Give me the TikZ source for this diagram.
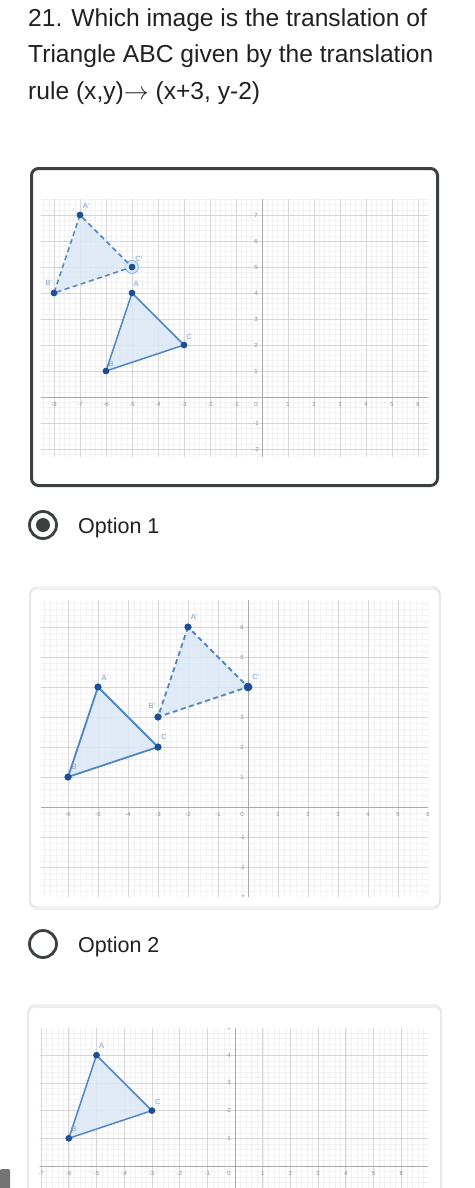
\documentclass[tikz,border=0pt]{standalone}
\usepackage{fontspec}
\setmainfont{Liberation Sans}
\definecolor{txt}{HTML}{202124}
\definecolor{gmin}{HTML}{F1F1F1}
\definecolor{gmaj}{HTML}{D6D6D6}
\definecolor{gax}{HTML}{A9A9A9}
\definecolor{glab}{HTML}{8C8C8C}
\definecolor{triline}{HTML}{4F86C6}
\definecolor{trifill}{HTML}{DCE8F6}
\definecolor{ptcol}{HTML}{1E4F96}
\definecolor{plabc}{HTML}{7D9CC8}
\definecolor{radioc}{HTML}{3C4043}
\definecolor{frameA}{HTML}{3C4043}
\definecolor{frameB}{HTML}{DADCE0}
\newcommand\gpanel[7]{%
  \begin{scope}
    \clip (#1,#3) rectangle (#2,#4);
    \foreach \k in {-50,...,40}{\draw[gminor] (\k/5,-5) -- (\k/5,9);}
    \foreach \k in {-25,...,45}{\draw[gminor] (-11,\k/5) -- (9,\k/5);}
    \foreach \k in {-10,...,8}{\draw[gmajor] (\k,-5) -- (\k,9);}
    \foreach \k in {-5,...,9}{\draw[gmajor] (-11,\k) -- (9,\k);}
    \draw[gaxis] (-11,0) -- (9,0) (0,-5) -- (0,9);
    \foreach \k in {#6}{\node[xlab] (#5x\k) at (\k,0) {\k};}
    \foreach \k in {#7}{\node[ylab] (#5y\k) at (0,\k) {\k};}
    \node[xlab, xshift=-6pt] (#5o) at (0,0) {0};
  \end{scope}}
\begin{document}
\begin{tikzpicture}[x=1pt,y=-1pt,
  title/.style={font=\fontsize{24.6}{28}\selectfont, text=txt, inner sep=0pt, anchor=base west},
  opt/.style={font=\fontsize{21.5}{26}\selectfont, text=txt, inner sep=0pt, anchor=base west},
  gminor/.style={draw=gmin, line width=0.4pt},
  gmajor/.style={draw=gmaj, line width=0.8pt},
  gaxis/.style={draw=gax, line width=1pt},
  xlab/.style={font=\fontsize{6}{7}\selectfont, text=glab, inner sep=0pt, yshift=-7pt},
  ylab/.style={font=\fontsize{6}{7}\selectfont, text=glab, inner sep=0pt, xshift=-6pt},
  pt/.style={circle, fill=ptcol, inner sep=0pt, minimum size=6.5pt},
  plab/.style={font=\fontsize{7.5}{8}\selectfont, text=plabc, inner sep=0pt},
  tri/.style={draw=triline, fill=trifill, fill opacity=0.85, line width=1.5pt, line join=round},
  dtri/.style={tri, dash pattern=on 5pt off 3.5pt},
  ring/.style={draw=radioc, line width=2.8pt},
]
\useasboundingbox (0,0) rectangle (474,1188);
\fill[white] (0,0) rectangle (474,1188);

% ---- question text
\node[title] (t1) at (28,27) {21. Which image is the translation of};
\node[title] (t2) at (28,63) {Triangle ABC given by the translation};
\node[title] (t3) at (28,100) {rule (x,y)$\rightarrow$ (x+3, y-2)};

% ---- graph 1 (question)
\begin{scope}[xshift=262pt, yshift=-397pt, x=26pt, y=26pt]
  \gpanel{-8.5}{6.4}{-2.3}{7.6}{ga}{-8,...,-1,1,2,...,6}{-2,-1,1,2,...,7}
  \node[pt] (A1) at (-5,4) {};
  \node[pt] (B1) at (-6,1) {};
  \node[pt] (C1) at (-3,2) {};
  \node[pt] (A1p) at (-7,7) {};
  \node[pt] (B1p) at (-8,4) {};
  \node[circle, fill=trifill, draw=triline!60, line width=1pt, minimum size=13pt, inner sep=0pt] (C1h) at (-5,5) {};
  \node[pt] (C1p) at (-5,5) {};
  \path[tri] (A1.center) -- (B1.center) -- (C1.center) -- cycle;
  \path[dtri] (A1p.center) -- (B1p.center) -- (C1p.center) -- cycle;
  \node[pt] at (A1) {};\node[pt] at (B1) {};\node[pt] at (C1) {};
  \node[pt] at (A1p) {};\node[pt] at (B1p) {};\node[pt] at (C1p) {};
  \node[plab] (lA1) at ([xshift=4pt,yshift=9pt]A1.center) {A};
  \node[plab] (lB1) at ([xshift=5pt,yshift=7pt]B1.center) {B};
  \node[plab] (lC1) at ([xshift=5pt,yshift=8pt]C1.center) {C};
  \node[plab] (lA1p) at ([xshift=6pt,yshift=9pt]A1p.center) {A'};
  \node[plab] (lB1p) at ([xshift=-5pt,yshift=10pt]B1p.center) {B'};
  \node[plab] (lC1p) at ([xshift=7pt,yshift=8pt]C1p.center) {C'};
\end{scope}
\draw[line width=3pt, draw=frameA, rounded corners=7pt] (31.5,168.5) rectangle (437.5,485.5);

% ---- option 1
\draw[ring] (43,525) circle (13.5);
\fill[radioc] (43,525) circle (7);
\node[opt] (o1) at (78,533) {Option 1};

% ---- graph 2 (option 1)
\draw[line width=2pt, draw=black!6, rounded corners=7pt] (30,589) rectangle (440,909);
\draw[line width=0.8pt, draw=frameB, rounded corners=7pt] (30,587) rectangle (440,907);
\begin{scope}[xshift=248pt, yshift=-807pt, x=30pt, y=30pt]
  \gpanel{-6.9}{6.0}{-2.97}{6.9}{gb}{-7,...,-1,1,2,...,6}{-3,-2,-1,1,2,...,6}
  \node[pt, minimum size=7pt] (A2) at (-5,4) {};
  \node[pt, minimum size=7pt] (B2) at (-6,1) {};
  \node[pt, minimum size=7pt] (C2) at (-3,2) {};
  \node[pt, minimum size=7pt] (A2p) at (-2,6) {};
  \node[pt, minimum size=7pt] (B2p) at (-3,3) {};
  \node[pt, minimum size=8.5pt] (C2p) at (0,4) {};
  \path[tri, line width=1.8pt] (A2.center) -- (B2.center) -- (C2.center) -- cycle;
  \path[dtri, line width=1.8pt] (A2p.center) -- (B2p.center) -- (C2p.center) -- cycle;
  \node[pt, minimum size=7pt] at (A2) {};\node[pt, minimum size=7pt] at (B2) {};\node[pt, minimum size=7pt] at (C2) {};
  \node[pt, minimum size=7pt] at (A2p) {};\node[pt, minimum size=7pt] at (B2p) {};\node[pt, minimum size=8.5pt] at (C2p) {};
  \node[plab] (lA2) at ([xshift=6pt,yshift=9pt]A2.center) {A};
  \node[plab] (lB2) at ([xshift=6pt,yshift=10pt]B2.center) {B};
  \node[plab] (lC2) at ([xshift=6pt,yshift=10pt]C2.center) {C};
  \node[plab] (lA2p) at ([xshift=6pt,yshift=10pt]A2p.center) {A'};
  \node[plab] (lB2p) at ([xshift=-6pt,yshift=11pt]B2p.center) {B'};
  \node[plab] (lC2p) at ([xshift=8pt,yshift=10pt]C2p.center) {C'};
\end{scope}

% ---- option 2
\draw[ring] (43,944) circle (13.5);
\node[opt] (o2) at (78,952) {Option 2};

% ---- graph 3 (option 2)
\draw[line width=2pt, draw=black!6, rounded corners=7pt] (28,1007) rectangle (441,1220);
\draw[line width=0.8pt, draw=frameB, rounded corners=7pt] (28,1005) rectangle (441,1220);
\begin{scope}[xshift=235pt, yshift=-1166pt, x=27.7pt, y=27.7pt]
  \gpanel{-7.05}{6.97}{-1}{4.95}{gc}{-7,...,-1,1,2,...,6}{1,2,...,5}
  \node[pt] (A3) at (-5,4) {};
  \node[pt] (B3) at (-6,1) {};
  \node[pt] (C3) at (-3,2) {};
  \path[tri] (A3.center) -- (B3.center) -- (C3.center) -- cycle;
  \node[pt] at (A3) {};\node[pt] at (B3) {};\node[pt] at (C3) {};
  \node[plab] (lA3) at ([xshift=5pt,yshift=9pt]A3.center) {A};
  \node[plab] (lB3) at ([xshift=5pt,yshift=9pt]B3.center) {B};
  \node[plab] (lC3) at ([xshift=6pt,yshift=9pt]C3.center) {C};
\end{scope}

% ---- dark tab at bottom left
\fill[black!55, rounded corners=2pt] (0,1169) rectangle (10,1195);
\end{tikzpicture}
\end{document}
